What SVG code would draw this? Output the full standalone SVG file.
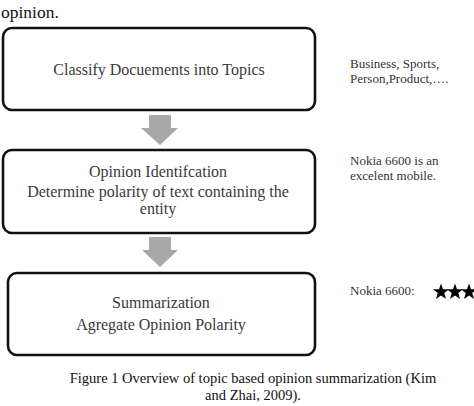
<svg xmlns="http://www.w3.org/2000/svg" xmlns:xlink="http://www.w3.org/1999/xlink" width="474" height="406" viewBox="0 0 474 406">
<style>
.box{fill:#fff;stroke:#111;stroke-width:2.6}
.t{font-family:"Liberation Serif","Times New Roman",serif;fill:#3a3a3a;text-anchor:middle;font-size:16px}
.s{font-family:"Liberation Serif","Times New Roman",serif;fill:#333;font-size:13px}
.c{font-family:"Liberation Serif","Times New Roman",serif;fill:#111;font-size:14.5px;text-anchor:middle}
.arr{fill:#a8a8a8}
</style>
<defs>
<polygon id="star" points="0,-8.5 2,-2.75 8.08,-2.63 3.23,1.05 5,6.88 0,3.4 -5,6.88 -3.23,1.05 -8.08,-2.63 -2,-2.75" fill="#000"/>
</defs>
<rect width="474" height="406" fill="#fff"/>
<text x="1" y="18" style="font-family:'Liberation Serif','Times New Roman',serif;font-size:17.5px;fill:#111">opinion.</text>
<g id="connectors">
<polygon class="arr" points="149,115 171,115 171,128 178,128 160,145 141,128 149,128"/>
<polygon class="arr" points="149,237 171,237 171,250 178,250 160,267 142,250 149,250"/>
</g>
<g id="node-classify">
<rect class="box" x="3" y="28" width="312" height="82" rx="9"/>
<text class="t" x="159" y="75">Classify Docuements into Topics</text>
</g>
<g id="node-opinion">
<rect class="box" x="3" y="150" width="312" height="83" rx="9"/>
<text class="t" x="158" y="177">Opinion Identifcation</text>
<text class="t" x="158" y="197">Determine polarity of text containing the</text>
<text class="t" x="158" y="214">entity</text>
</g>
<g id="node-summarization">
<rect class="box" x="8" y="273" width="307" height="82" rx="9"/>
<text class="t" x="161" y="308">Summarization</text>
<text class="t" x="161" y="330">Agregate Opinion Polarity</text>
</g>
<g id="examples">
<text class="s" x="350" y="68">Business, Sports,</text>
<text class="s" x="350" y="83">Person,Product,….</text>
<text class="s" x="350" y="165">Nokia 6600 is an</text>
<text class="s" x="350" y="180">excelent mobile.</text>
<text class="s" x="350" y="295">Nokia 6600:</text>
<use xlink:href="#star" x="441" y="292"/>
<use xlink:href="#star" x="455" y="292"/>
<use xlink:href="#star" x="469" y="292"/>
</g>
<text class="c" x="253" y="383">Figure 1 Overview of topic based opinion summarization (Kim</text>
<text class="c" x="253" y="400">and Zhai, 2009).</text>
</svg>
